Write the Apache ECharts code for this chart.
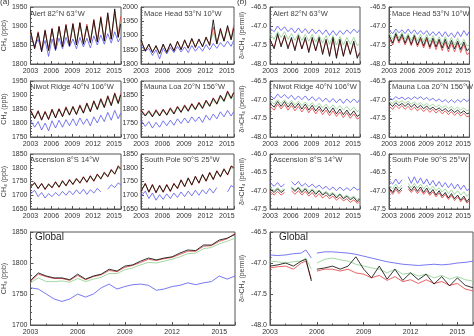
<!DOCTYPE html>
<html><head><meta charset="utf-8">
<script src="https://cdn.jsdelivr.net/npm/echarts@6/dist/echarts.min.js"></script>
<style>html,body{margin:0;padding:0;background:#fff}#c{width:474px;height:336px}</style>
</head><body><div id="c"></div>
<script>
// ---- time axes (fractional years) ----
const T = [2003.0,2003.6,2004.1,2004.6,2005.1,2005.6,2006.1,2006.6,2007.1,2007.6,2008.1,2008.6,2009.1,2009.6,2010.1,2010.6,2011.1,2011.6,2012.1,2012.6,2013.1,2013.6,2014.1,2014.6,2015.1,2015.6,2015.95];
const TG = [2003.0,2003.5,2004.0,2004.5,2005.0,2005.5,2006.0,2006.5,2007.0,2007.5,2008.0,2008.5,2009.0,2009.5,2010.0,2010.5,2011.0,2011.5,2012.0,2012.5,2013.0,2013.5,2014.0,2014.5,2015.0,2015.5,2016.0];
const TGB = [2003.0,2003.5,2004.0,2004.5,2005.0,2005.3,2005.65,2005.85,2006.0,2006.5,2007.0,2007.5,2008.0,2008.5,2009.0,2009.5,2010.0,2010.5,2011.0,2011.5,2012.0,2012.5,2013.0,2013.5,2014.0,2014.5,2015.0,2015.5,2016.0];
const X_TICKS = [2003,2006,2009,2012,2015];

// ---- (a) CH4, ppb ----
const ALERT_CH4_BLACK = [1888,1840,1882,1832,1888,1835,1892,1838,1898,1845,1902,1848,1905,1850,1908,1852,1900,1855,1915,1858,1922,1860,1935,1865,1945,1870,1905];
const ALERT_CH4_RED   = [1885,1842,1885,1835,1890,1838,1895,1840,1900,1846,1905,1850,1908,1852,1910,1855,1905,1858,1918,1860,1925,1862,1930,1866,1940,1872,1925];
const ALERT_CH4_GREEN = [1880,1845,1878,1838,1884,1840,1888,1842,1893,1848,1897,1852,1900,1853,1903,1856,1898,1858,1910,1860,1916,1862,1924,1866,1932,1870,1915];
const ALERT_CH4_BLUE  = [1872,1848,1865,1835,1862,1820,1866,1835,1868,1840,1870,1845,1866,1840,1870,1845,1868,1842,1874,1850,1876,1852,1880,1855,1885,1858,1870];

const MACE_CH4_BLACK = [1885,1845,1870,1840,1865,1835,1870,1840,1872,1845,1880,1850,1885,1855,1890,1858,1888,1860,1895,1865,1955,1870,1925,1880,1935,1885,1925];
const MACE_CH4_RED   = [1880,1848,1868,1842,1862,1838,1868,1842,1870,1848,1878,1852,1882,1856,1888,1860,1885,1862,1892,1868,1930,1872,1920,1882,1930,1888,1935];
const MACE_CH4_GREEN = [1875,1850,1865,1845,1860,1840,1865,1845,1868,1850,1875,1853,1880,1858,1884,1862,1882,1864,1888,1868,1910,1872,1912,1880,1922,1885,1920];
const MACE_CH4_BLUE  = [1865,1845,1855,1830,1850,1818,1855,1835,1858,1840,1862,1842,1860,1840,1865,1845,1862,1845,1868,1850,1872,1855,1875,1860,1880,1862,1882];

const NIWOT_CH4_BLACK = [1845,1815,1842,1810,1840,1812,1848,1818,1850,1822,1855,1828,1858,1830,1862,1835,1870,1840,1878,1848,1885,1855,1895,1862,1905,1870,1900];
const NIWOT_CH4_RED   = [1848,1818,1845,1812,1842,1815,1850,1820,1852,1825,1858,1830,1860,1832,1865,1838,1872,1842,1880,1850,1888,1858,1898,1865,1908,1872,1905];
const NIWOT_CH4_GREEN = [1840,1820,1838,1815,1836,1815,1842,1820,1846,1825,1850,1830,1853,1832,1858,1836,1864,1842,1872,1848,1878,1855,1888,1862,1896,1868,1892];
const NIWOT_CH4_BLUE  = [1810,1785,1805,1775,1800,1772,1808,1782,1810,1785,1812,1790,1815,1790,1818,1795,1815,1790,1822,1800,1828,1805,1838,1810,1845,1815,1835];

const MAUNA_CH4_BLACK = [1795,1775,1792,1772,1795,1775,1798,1778,1802,1782,1808,1788,1812,1792,1818,1798,1822,1802,1830,1810,1838,1818,1848,1828,1862,1838,1858];
const MAUNA_CH4_RED   = [1798,1778,1795,1775,1798,1778,1800,1780,1805,1785,1810,1790,1815,1795,1820,1800,1825,1805,1832,1812,1840,1820,1850,1830,1865,1840,1860];
const MAUNA_CH4_GREEN = [1790,1775,1788,1772,1790,1775,1794,1778,1798,1782,1804,1788,1808,1792,1814,1796,1818,1800,1826,1808,1832,1815,1842,1825,1855,1835,1850];
const MAUNA_CH4_BLUE  = [1760,1738,1755,1732,1752,1735,1758,1740,1760,1742,1765,1748,1768,1750,1772,1755,1772,1752,1778,1760,1782,1765,1790,1772,1795,1775,1790];

const ASC_CH4_BLACK = [1730,1745,1725,1742,1722,1740,1728,1748,1730,1752,1735,1756,1740,1760,1745,1766,1748,1770,1752,1776,1760,1782,1768,1792,1778,1805,1795];
const ASC_CH4_RED   = [1728,1747,1723,1744,1720,1742,1726,1750,1728,1754,1733,1758,1738,1762,1743,1768,1746,1772,1750,1778,1758,1785,1766,1795,1776,1808,1798];
const ASC_CH4_GREEN = [1732,1742,1727,1740,1724,1738,1730,1745,1732,1748,1737,1752,1742,1757,1747,1762,1750,1766,1754,1772,1762,1778,1770,1788,1778,1800,1792];
const ASC_CH4_BLUE  = [1705,1718,1695,1710,1690,1706,1695,1710,1698,1714,1700,1716,1702,1720,1705,1722,1703,1720,1708,1725,1712,null,1722,1738,1728,1745,1738];

const SPO_CH4_BLACK = [1715,1742,1712,1738,1710,1735,1712,1738,1715,1742,1725,1755,1732,1762,1738,1768,1745,1775,1752,1782,1758,1788,1768,1795,1775,1805,1800];
const SPO_CH4_RED   = [1713,1744,1710,1740,1708,1737,1710,1740,1713,1744,1723,1757,1730,1764,1736,1770,1743,1777,1750,1784,1756,1790,1766,1797,1773,1807,1802];
const SPO_CH4_GREEN = [1717,1740,1714,1736,1712,1733,1714,1736,1717,1740,1727,1752,1734,1759,1740,1765,1747,1772,1754,1779,1760,1785,1770,1792,1776,1800,1796];
const SPO_CH4_BLUE  = [1695,1715,1688,1708,1682,1702,1685,1705,1688,1708,1692,1712,1695,1715,1698,1718,1700,1720,1705,1725,1708,1728,null,null,1712,1735,1730];

const GLOBAL_CH4_BLACK = [1772,1784,1779,1776,1776,1773,1782,1774,1779,1782,1790,1787,1795,1797,1803,1808,1805,1808,1810,1816,1821,1820,1829,1829,1837,1840,1846];
const GLOBAL_CH4_RED   = [1770,1782,1778,1775,1775,1772,1780,1773,1778,1781,1788,1786,1793,1796,1801,1806,1804,1807,1809,1814,1819,1819,1827,1828,1835,1839,1848];
const GLOBAL_CH4_GREEN = [1768,1776,1770,1770,1771,1769,1775,1770,1774,1777,1783,1783,1789,1792,1797,1801,1800,1803,1806,1810,1815,1816,1823,1825,1831,1835,1840];
const GLOBAL_CH4_BLUE  = [1760,1758,1750,1742,1738,1742,1750,1745,1750,1760,1766,1758,1762,1765,1766,1764,1756,1758,1762,1764,1768,1765,1768,1770,1779,1774,1779];

// ---- (b) d13CH4, permil ----
const ALERT_D13_BLACK = [-47.35,-47.6,-47.2,-47.55,-47.25,-47.6,-47.3,-47.65,-47.25,-47.6,-47.3,-47.7,-47.3,-47.65,-47.3,-47.75,-47.35,-47.8,-47.3,-47.85,-47.35,-47.8,-47.4,-47.75,-47.4,-47.85,-47.7];
const ALERT_D13_RED   = [-47.4,-47.55,-47.25,-47.5,-47.3,-47.55,-47.35,-47.6,-47.3,-47.6,-47.35,-47.65,-47.35,-47.65,-47.35,-47.7,-47.4,-47.75,-47.35,-47.8,-47.4,-47.78,-47.45,-47.72,-47.45,-47.8,-47.75];
const ALERT_D13_GREEN = [-47.2,-47.35,-47.15,-47.3,-47.15,-47.35,-47.2,-47.38,-47.2,-47.38,-47.22,-47.4,-47.22,-47.42,-47.25,-47.45,-47.25,-47.48,-47.25,-47.5,-47.28,-47.5,-47.3,-47.48,-47.3,-47.52,-47.45];
const ALERT_D13_BLUE  = [-47.05,-47.15,-47.0,-47.12,-47.02,-47.15,-47.05,-47.18,-47.05,-47.18,-47.07,-47.2,-47.08,-47.2,-47.1,-47.22,-47.1,-47.25,-47.12,-47.25,-47.12,-47.22,-47.1,-47.2,-47.08,-47.18,-47.1];

const MACE_D13_BLACK = [-47.25,-47.45,-47.2,-47.4,-47.22,-47.45,-47.25,-47.48,-47.25,-47.5,-47.3,-47.52,-47.3,-47.55,-47.32,-47.55,-47.35,-47.58,-47.35,-47.6,-47.38,-47.6,-47.4,-47.62,-47.42,-47.65,-47.6];
const MACE_D13_RED   = [-47.3,-47.5,-47.25,-47.45,-47.28,-47.5,-47.3,-47.52,-47.3,-47.55,-47.35,-47.58,-47.35,-47.6,-47.38,-47.62,-47.4,-47.65,-47.42,-47.68,-47.45,-47.68,-47.45,-47.7,-47.48,-47.75,-47.72];
const MACE_D13_GREEN = [-47.18,-47.35,-47.15,-47.32,-47.17,-47.35,-47.2,-47.38,-47.2,-47.4,-47.22,-47.42,-47.22,-47.42,-47.25,-47.45,-47.28,-47.48,-47.28,-47.48,-47.3,-47.5,-47.32,-47.5,-47.35,-47.52,-47.5];
const MACE_D13_BLUE  = [-47.1,-47.2,-47.08,-47.18,-47.1,-47.2,-47.08,-47.2,-47.1,-47.22,-47.12,-47.22,-47.12,-47.25,-47.15,-47.25,-47.15,-47.28,-47.15,-47.28,-47.18,-47.3,-47.15,-47.28,-47.12,-47.25,-47.15];

const NIWOT_D13_BLACK = [-47.1,-47.2,-47.05,-47.18,-47.05,-47.2,-47.08,-47.22,-47.1,-47.25,-47.12,-47.28,-47.15,-47.3,-47.18,-47.32,-47.2,-47.35,-47.22,-47.38,-47.25,-47.4,-47.28,-47.42,-47.3,-47.45,-47.4];
const NIWOT_D13_RED   = [-47.18,-47.28,-47.12,-47.25,-47.13,-47.28,-47.15,-47.3,-47.18,-47.33,-47.2,-47.35,-47.22,-47.38,-47.25,-47.4,-47.28,-47.43,-47.3,-47.45,-47.33,-47.48,-47.35,-47.5,-47.38,-47.52,-47.48];
const NIWOT_D13_GREEN = [-47.02,-47.12,-47.0,-47.1,-47.0,-47.12,-47.02,-47.14,-47.04,-47.16,-47.06,-47.18,-47.08,-47.2,-47.1,-47.22,-47.12,-47.24,-47.14,-47.26,-47.16,-47.28,-47.18,-47.3,-47.2,-47.32,-47.28];
const NIWOT_D13_BLUE  = [-46.88,-46.98,-46.85,-46.95,-46.86,-46.97,-46.88,-47.0,-46.9,-47.0,-46.9,-47.02,-46.92,-47.03,-46.94,-47.05,-46.96,-47.07,-46.97,-47.08,-46.98,-47.1,-46.98,-47.08,-46.98,-47.08,-47.0];

const MAUNA_D13_BLACK = [-47.1,-47.18,-47.08,-47.16,-47.1,-47.18,-47.1,-47.2,-47.12,-47.22,-47.15,-47.24,-47.17,-47.26,-47.2,-47.28,-47.22,-47.3,-47.24,-47.32,-47.26,-47.34,-47.28,-47.36,-47.3,-47.38,-47.36];
const MAUNA_D13_RED   = [-47.18,-47.26,-47.15,-47.24,-47.16,-47.26,-47.18,-47.28,-47.2,-47.3,-47.22,-47.32,-47.24,-47.34,-47.26,-47.36,-47.28,-47.38,-47.3,-47.4,-47.32,-47.42,-47.34,-47.44,-47.36,-47.46,-47.44];
const MAUNA_D13_GREEN = [-47.04,-47.1,-47.02,-47.08,-47.03,-47.1,-47.04,-47.12,-47.06,-47.14,-47.08,-47.16,-47.1,-47.18,-47.12,-47.2,-47.14,-47.22,-47.16,-47.24,-47.18,-47.26,-47.2,-47.28,-47.22,-47.3,-47.28];
const MAUNA_D13_BLUE  = [-46.95,-47.0,-46.92,-46.98,-46.93,-47.0,-46.94,-47.0,-46.92,-46.98,-46.92,-47.0,-46.94,-47.02,-46.96,-47.04,-46.98,-47.06,-47.0,-47.08,-47.0,-47.08,-47.0,-47.06,-46.98,-47.05,-47.0];

const ASC_D13_BLACK = [-46.95,-47.05,-46.95,-47.05,-46.98,null,-46.92,-47.02,-46.92,-47.05,-46.95,-47.08,-46.98,-47.1,-47.0,-47.12,-47.05,-47.15,-47.08,-47.2,-47.1,-47.22,-47.15,-47.25,-47.18,-47.3,-47.22];
const ASC_D13_RED   = [-47.02,-47.12,-47.02,-47.12,-47.05,null,-47.0,-47.1,-47.0,-47.12,-47.02,-47.15,-47.05,-47.18,-47.08,-47.2,-47.12,-47.22,-47.15,-47.26,-47.18,-47.28,-47.22,-47.32,-47.25,-47.35,-47.28];
const ASC_D13_GREEN = [-46.92,-47.0,-46.92,-47.0,-46.95,null,-46.9,-46.98,-46.9,-47.0,-46.92,-47.02,-46.95,-47.05,-46.98,-47.08,-47.02,-47.1,-47.05,-47.15,-47.08,-47.18,-47.12,-47.2,-47.15,-47.24,-47.2];
const ASC_D13_BLUE  = [-46.78,-46.88,-46.78,-46.9,-46.82,null,-46.75,-46.85,-46.75,-46.88,-46.8,-46.9,-46.82,-46.92,-46.85,-46.95,-46.88,-46.98,-46.9,-47.0,-46.9,-47.0,-46.92,-47.0,-46.9,-46.98,-46.95];

const SPO_D13_BLACK = [-46.92,-47.05,-46.9,-47.02,-46.92,null,-46.88,-47.0,-46.88,-47.02,-46.9,-47.05,-46.93,-47.08,-46.97,-47.12,-47.0,-47.15,-47.05,-47.2,-47.08,-47.22,-47.12,-47.26,-47.15,-47.3,-47.22];
const SPO_D13_RED   = [-46.98,-47.1,-46.96,-47.08,-46.98,null,-46.95,-47.05,-46.95,-47.08,-46.97,-47.1,-47.0,-47.13,-47.03,-47.17,-47.06,-47.2,-47.1,-47.24,-47.13,-47.27,-47.17,-47.3,-47.2,-47.34,-47.28];
const SPO_D13_GREEN = [-46.85,-46.95,-46.82,-46.94,-46.84,null,-46.8,-46.92,-46.8,-46.93,-46.82,-46.95,-46.85,-46.98,-46.88,-47.0,-46.92,-47.04,-46.95,-47.08,-46.98,-47.1,-47.0,-47.12,-47.03,-47.15,-47.1];
const SPO_D13_BLUE  = [-46.72,-46.82,-46.68,-46.82,-46.7,null,-46.62,-46.8,-46.62,-46.8,-46.65,-46.82,-46.68,-46.85,-46.72,-46.88,-46.75,-46.9,-46.78,-46.92,-46.8,-46.95,-46.82,-46.97,-46.85,-47.0,-46.95];

const GLOBAL_D13_BLACK = [-47.05,-47.03,-47.0,-47.05,-46.97,-46.94,-47.29,null,-47.1,-47.08,-47.05,-47.1,-47.05,-46.9,-47.1,-47.24,-47.05,-47.26,-47.1,-47.28,-47.16,-47.27,-47.18,-47.34,-47.22,-47.37,-47.24,-47.36,-47.4];
const GLOBAL_D13_RED   = [-47.08,-47.06,-47.05,-47.1,-47.0,-46.97,-47.26,null,-47.13,-47.1,-47.1,-47.13,-47.1,-47.16,-47.18,-47.24,-47.2,-47.28,-47.22,-47.3,-47.27,-47.33,-47.27,-47.33,-47.3,-47.36,-47.33,-47.42,-47.45];
const GLOBAL_D13_GREEN = [-46.97,-46.98,-47.0,-46.98,-46.97,-46.92,-47.1,null,-47.0,-46.94,-46.92,-46.95,-46.97,-47.02,-47.05,-47.08,-47.1,-47.16,-47.1,-47.18,-47.16,-47.21,-47.18,-47.24,-47.2,-47.26,-47.22,-47.27,-47.29];
const GLOBAL_D13_BLUE  = [-46.87,-46.88,-46.87,-46.85,-46.84,-46.79,-46.92,null,-46.84,-46.82,-46.82,-46.83,-46.84,-46.86,-46.89,-46.92,-46.95,-46.98,-47.0,-47.02,-47.03,-47.04,-47.03,-47.02,-47.03,-47.02,-47.0,-46.99,-46.97];

// ---- styling ----
const COLORS = ['#8ccf8c', '#5656f0', '#e33b3b', '#000000']; // green, blue, red, black (draw order)
const CH4_NAME = 'CH\u2084 (ppb)';
const D13_NAME = '\u03b4\u00b9\u00b3CH\u2084 (permil)';
const FONT = 'Liberation Sans';

const PANELS = [
  {title:'Alert 82°N 63°W',        rect:[26,7,95,57],   y:[1800,1950,50],  name:CH4_NAME, gap:17, t:T,  d:[ALERT_CH4_GREEN,ALERT_CH4_BLUE,ALERT_CH4_RED,ALERT_CH4_BLACK], tp:[30,10]},
  {title:'Mace Head 53°N 10°W',    rect:[141,7,93,57],  y:[1800,2000,50],  name:'',       gap:0,  t:T,  d:[MACE_CH4_GREEN,MACE_CH4_BLUE,MACE_CH4_RED,MACE_CH4_BLACK], tp:[144,10]},
  {title:'Niwot Ridge 40°N 106°W', rect:[26,81,95,56],  y:[1750,1950,50],  name:CH4_NAME, gap:17, t:T,  d:[NIWOT_CH4_GREEN,NIWOT_CH4_BLUE,NIWOT_CH4_RED,NIWOT_CH4_BLACK], tp:[30,83]},
  {title:'Mauna Loa 20°N 156°W',   rect:[141,81,93,56], y:[1700,1900,50],  name:'',       gap:0,  t:T,  d:[MAUNA_CH4_GREEN,MAUNA_CH4_BLUE,MAUNA_CH4_RED,MAUNA_CH4_BLACK], tp:[144,83]},
  {title:'Ascension 8°S 14°W',     rect:[26,154,95,55], y:[1650,1850,50],  name:CH4_NAME, gap:17, t:T,  d:[ASC_CH4_GREEN,ASC_CH4_BLUE,ASC_CH4_RED,ASC_CH4_BLACK], tp:[30,156]},
  {title:'South Pole 90°S 25°W',   rect:[141,154,93,55],y:[1650,1850,50],  name:'',       gap:0,  t:T,  d:[SPO_CH4_GREEN,SPO_CH4_BLUE,SPO_CH4_RED,SPO_CH4_BLACK], tp:[144,156]},
  {title:'Global',                 rect:[26,232,209,95],y:[1700,1850,50],  name:CH4_NAME, gap:17, t:TG, d:[GLOBAL_CH4_GREEN,GLOBAL_CH4_BLUE,GLOBAL_CH4_RED,GLOBAL_CH4_BLACK], tp:[35,232], big:true},
  {title:'Alert 82°N 63°W',        rect:[270,7,90,57],  y:[-48,-46.5,0.5], name:D13_NAME, gap:24, t:T,  d:[ALERT_D13_GREEN,ALERT_D13_BLUE,ALERT_D13_RED,ALERT_D13_BLACK], tp:[273,10]},
  {title:'Mace Head 53°N 10°W',    rect:[389,7,87,57],  y:[-48,-46.5,0.5], name:'',       gap:0,  t:T,  d:[MACE_D13_GREEN,MACE_D13_BLUE,MACE_D13_RED,MACE_D13_BLACK], tp:[392,10]},
  {title:'Niwot Ridge 40°N 106°W', rect:[270,81,90,56], y:[-48,-46.5,0.5], name:D13_NAME, gap:24, t:T,  d:[NIWOT_D13_GREEN,NIWOT_D13_BLUE,NIWOT_D13_RED,NIWOT_D13_BLACK], tp:[273,83]},
  {title:'Mauna Loa 20°N 156°W',   rect:[389,81,87,56], y:[-48,-46.5,0.5], name:'',       gap:0,  t:T,  d:[MAUNA_D13_GREEN,MAUNA_D13_BLUE,MAUNA_D13_RED,MAUNA_D13_BLACK], tp:[392,83]},
  {title:'Ascension 8°S 14°W',     rect:[270,154,90,55],y:[-47.5,-46,0.5], name:D13_NAME, gap:24, t:T,  d:[ASC_D13_GREEN,ASC_D13_BLUE,ASC_D13_RED,ASC_D13_BLACK], tp:[273,156]},
  {title:'South Pole 90°S 25°W',   rect:[389,154,87,55],y:[-47.5,-46,0.5], name:'',       gap:0,  t:T,  d:[SPO_D13_GREEN,SPO_D13_BLUE,SPO_D13_RED,SPO_D13_BLACK], tp:[392,156]},
  {title:'Global',                 rect:[270,232,203,95],y:[-48,-46.5,0.5],name:D13_NAME, gap:24, t:TGB,d:[GLOBAL_D13_GREEN,GLOBAL_D13_BLUE,GLOBAL_D13_RED,GLOBAL_D13_BLACK], tp:[279,232], big:true}
];

const grid = [], xAxis = [], yAxis = [], series = [], title = [];
PANELS.forEach((p, i) => {
  const isD = p.y[2] < 1;
  grid.push({left:p.rect[0], top:p.rect[1], width:p.rect[2], height:p.rect[3], show:true,
             borderColor:'#555', borderWidth:1, backgroundColor:'rgba(0,0,0,0)', containLabel:false});
  xAxis.push({type:'value', gridIndex:i, min:2003, max:2016, interval:3,
    axisLine:{show:true, lineStyle:{color:'#555', width:1}},
    axisTick:{show:true, inside:true, length:3, lineStyle:{color:'#555'}},
    minorTick:{show:true, splitNumber:3, length:1.5, lineStyle:{color:'#555'}},
    splitLine:{show:false},
    axisLabel:{fontSize:7, fontFamily:FONT, color:'#333', margin:4, showMaxLabel:false,
      formatter: v => X_TICKS.indexOf(Math.round(v)) >= 0 && Math.abs(v - Math.round(v)) < 1e-6 ? String(Math.round(v)) : ''}});
  yAxis.push({type:'value', gridIndex:i, min:p.y[0], max:p.y[1], interval:p.y[2],
    name:p.name, nameLocation:'middle', nameGap:p.gap, nameRotate:90,
    nameTextStyle:{fontSize:7, fontFamily:FONT, color:'#444'},
    axisLine:{show:true, lineStyle:{color:'#555', width:1}},
    axisTick:{show:true, inside:true, length:3, lineStyle:{color:'#555'}},
    minorTick:{show:true, splitNumber:5, length:1.5, lineStyle:{color:'#555'}},
    splitLine:{show:false},
    axisLabel:{fontSize:7, fontFamily:FONT, color:'#333', margin:3,
      formatter: v => isD ? v.toFixed(1) : String(v)}});
  p.d.forEach((vals, k) => {
    series.push({type:'line', xAxisIndex:i, yAxisIndex:i, showSymbol:false, symbol:'none',
      connectNulls:false, animation:false, silent:true, z:2+k,
      lineStyle:{color:COLORS[k], width:0.8},
      data: p.t.map((x, j) => [x, vals[j] == null ? '-' : vals[j]])});
  });
  title.push({text:p.title, left:p.tp[0], top:p.tp[1], padding:0,
    textStyle:{fontSize:p.big ? 10 : 7.5, fontWeight:'normal', fontFamily:FONT, color:p.big ? '#222' : '#444'}});
});
title.push({text:'(a)', left:0, top:-2, padding:0, textStyle:{fontSize:8, fontWeight:'normal', fontFamily:FONT, color:'#333'}});
title.push({text:'(b)', left:237, top:-2, padding:0, textStyle:{fontSize:8, fontWeight:'normal', fontFamily:FONT, color:'#333'}});

const chart = echarts.init(document.getElementById('c'), null, {renderer:'canvas', width:474, height:336});
chart.setOption({animation:false, backgroundColor:'#ffffff', title, grid, xAxis, yAxis, series});
</script></body></html>
